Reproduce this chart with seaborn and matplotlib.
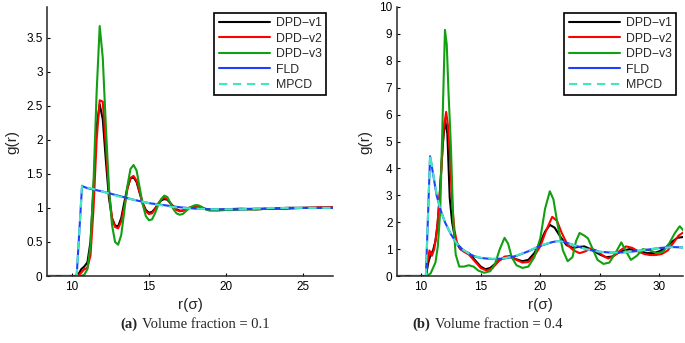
import numpy as np
import matplotlib
matplotlib.use("Agg")
import matplotlib.pyplot as plt
from matplotlib.ticker import FormatStrFormatter, MultipleLocator
import seaborn as sns

# ---- datos panel (a): fraccion de volumen 0.1 ----
r_a = [8.4, 10.2, 10.4, 10.6, 10.8, 11.0, 11.2, 11.4, 11.6, 11.8, 12.0, 12.2, 12.4, 12.6,
       12.8, 13.0, 13.2, 13.4, 13.6, 13.8, 14.0, 14.2, 14.4, 14.6, 14.8, 15.0, 15.2, 15.4,
       15.6, 15.8, 16.0, 16.2, 16.4, 16.6, 16.8, 17.0, 17.2, 17.4, 17.6, 17.8, 18.0, 18.2,
       18.4, 18.6, 18.8, 19.0, 19.5, 20, 21, 22, 23, 24, 25, 26, 27]
v1_a = [0, 0, 0.02, 0.1, 0.14, 0.2, 0.5, 1.3, 2.2, 2.52, 2.3, 1.7, 1.15, 0.85, 0.74, 0.73,
        0.85, 1.08, 1.3, 1.43, 1.45, 1.38, 1.22, 1.07, 0.97, 0.93, 0.94, 0.99, 1.06, 1.11,
        1.13, 1.12, 1.07, 1.02, 0.98, 0.96, 0.96, 0.98, 1.0, 1.01, 1.02, 1.02, 1.01, 0.99,
        0.98, 0.97, 0.97, 0.97, 0.98, 0.98, 0.99, 0.99, 1.0, 1.0, 1.01]
v2_a = [0, 0, 0.0, 0.05, 0.1, 0.12, 0.3, 1.0, 2.0, 2.58, 2.56, 1.9, 1.25, 0.85, 0.72, 0.7,
        0.8, 1.02, 1.27, 1.44, 1.47, 1.4, 1.23, 1.06, 0.95, 0.91, 0.92, 0.98, 1.06, 1.12,
        1.15, 1.13, 1.07, 1.01, 0.97, 0.95, 0.96, 0.98, 1.0, 1.01, 1.02, 1.02, 1.01, 0.99,
        0.98, 0.97, 0.97, 0.98, 0.99, 0.98, 0.99, 1.0, 1.0, 1.01, 1.01]
v3_a = [0, 0, 0, 0, 0.02, 0.1, 0.45, 1.4, 2.7, 3.67, 3.2, 2.2, 1.3, 0.75, 0.5, 0.46,
        0.6, 0.95, 1.32, 1.57, 1.63, 1.55, 1.3, 1.05, 0.88, 0.82, 0.83, 0.92, 1.04, 1.13,
        1.18, 1.16, 1.07, 0.98, 0.92, 0.9, 0.91, 0.95, 0.99, 1.02, 1.04, 1.04, 1.02, 0.99,
        0.97, 0.96, 0.96, 0.97, 0.98, 0.98, 0.99, 1.0, 1.0, 1.0, 1.0]
r_cont_a = [8.4, 10.3, 10.65, 11, 12, 13, 14, 15, 16, 17, 18, 19, 20, 21, 22, 23, 24, 25, 26, 27]
fld_a = [0, 0, 1.32, 1.29, 1.24, 1.18, 1.12, 1.07, 1.04, 1.01, 0.99, 0.98, 0.98, 0.98,
         0.99, 0.99, 1.0, 1.0, 1.0, 1.0]
mpcd_a = [0, 0, 1.33, 1.3, 1.24, 1.17, 1.12, 1.07, 1.03, 1.0, 0.99, 0.98, 0.98, 0.98,
          0.99, 1.0, 1.0, 1.0, 1.0, 1.0]

# ---- datos panel (b): fraccion de volumen 0.4 ----
r_v1_b = [8, 10.4, 10.6, 10.8, 11.0, 11.2, 11.4, 11.6, 11.8, 12.0, 12.2, 12.4, 12.6, 12.8,
          13.0, 13.3, 13.6, 14.0, 14.5, 15.0, 15.4, 15.8, 16.2, 16.6, 17.0, 17.5, 18.0, 18.5,
          19.0, 19.5, 20.0, 20.4, 20.8, 21.2, 21.7, 22.2, 22.7, 23.2, 23.7, 24.2, 24.6, 25.0,
          25.5, 26.0, 26.5, 27.0, 27.5, 28.0, 28.5, 29.0, 29.5, 30.0, 30.5, 31.0, 31.5, 32.0]
v1_b = [0, 0, 0.5, 0.8, 0.95, 1.3, 2.0, 3.3, 4.8, 5.8, 5.3, 2.9, 2.0, 1.5, 1.2, 1.0, 0.93,
        0.85, 0.6, 0.35, 0.25, 0.3, 0.45, 0.6, 0.68, 0.7, 0.62, 0.55, 0.6, 0.85, 1.25, 1.65,
        1.9, 1.8, 1.45, 1.15, 1.05, 1.08, 1.1, 1.0, 0.9, 0.8, 0.7, 0.72, 0.85, 0.95, 1.0,
        0.95, 0.9, 0.85, 0.85, 0.92, 1.05, 1.25, 1.42, 1.45]
r_v2_b = [8, 10.4, 10.55, 10.7, 10.9, 11.1, 11.3, 11.5, 11.7, 11.9, 12.1, 12.25, 12.4, 12.6,
          12.8, 13.0, 13.3, 13.6, 14.0, 14.5, 15.0, 15.5, 16.0, 16.5, 17.0, 17.5, 18.0, 18.5,
          19.0, 19.5, 20.0, 20.5, 21.0, 21.4, 21.8, 22.3, 22.8, 23.3, 23.8, 24.2, 24.7, 25.2,
          25.7, 26.2, 26.7, 27.2, 27.7, 28.2, 28.7, 29.2, 29.7, 30.2, 30.7, 31.2, 31.6, 32.0]
v2_b = [0, 0, 0.6, 0.95, 0.75, 1.0, 1.6, 2.6, 4.0, 5.5, 6.1, 5.6, 4.6, 2.7, 1.7, 1.25, 1.0,
        0.9, 0.8, 0.55, 0.3, 0.2, 0.3, 0.55, 0.72, 0.75, 0.6, 0.5, 0.52, 0.75, 1.1, 1.7, 2.2,
        2.05, 1.6, 1.15, 0.95, 0.85, 0.92, 1.02, 0.95, 0.78, 0.65, 0.75, 0.95, 1.1, 1.05,
        0.92, 0.82, 0.78, 0.78, 0.82, 0.95, 1.25, 1.5, 1.62]
r_v3_b = [8, 10.5, 10.8, 11.0, 11.2, 11.4, 11.6, 11.8, 12.0, 12.15, 12.3, 12.5, 12.7, 12.9,
          13.2, 13.6, 14.0, 14.4, 14.8, 15.3, 15.8, 16.2, 16.6, 17.0, 17.3, 17.6, 18.0, 18.5,
          19.0, 19.5, 20.0, 20.4, 20.8, 21.1, 21.5, 21.9, 22.3, 22.7, 23.0, 23.3, 23.7, 24.0,
          24.4, 24.8, 25.3, 25.8, 26.3, 26.8, 27.1, 27.6, 28.1, 28.6, 29.2, 29.8, 30.3, 30.8,
          31.3, 31.7, 32.0]
v3_b = [0, 0, 0.1, 0.3, 0.5, 1.1, 2.4, 5.8, 9.15, 8.6, 6.8, 4.8, 2.0, 0.8, 0.35, 0.35, 0.4,
        0.35, 0.2, 0.12, 0.18, 0.45, 1.0, 1.42, 1.2, 0.7, 0.4, 0.3, 0.35, 0.7, 1.4, 2.5, 3.15,
        2.85, 1.8, 0.95, 0.55, 0.7, 1.3, 1.6, 1.5, 1.4, 1.0, 0.6, 0.45, 0.5, 0.85, 1.25, 1.0,
        0.6, 0.75, 1.0, 0.95, 0.85, 0.9, 1.2, 1.6, 1.85, 1.7]
r_cont_b = [8, 10.4, 10.75, 11.0, 11.3, 11.6, 12.0, 12.5, 13.0, 13.5, 14.0, 14.5, 15, 16, 17,
            18, 19, 20, 21, 21.5, 22, 23, 24, 25, 26, 27, 28, 29, 30, 31, 32]
fld_b = [0, 0, 4.45, 3.8, 3.0, 2.5, 2.0, 1.55, 1.2, 0.98, 0.83, 0.73, 0.67, 0.63, 0.65,
         0.75, 0.92, 1.12, 1.26, 1.3, 1.27, 1.12, 0.98, 0.9, 0.87, 0.88, 0.92, 0.98, 1.04,
         1.08, 1.06]
mpcd_b = [0, 0, 4.5, 3.85, 3.05, 2.5, 2.0, 1.55, 1.2, 0.98, 0.84, 0.74, 0.68, 0.64, 0.66,
          0.76, 0.93, 1.13, 1.27, 1.3, 1.27, 1.12, 0.98, 0.9, 0.87, 0.88, 0.92, 0.98, 1.04,
          1.07, 1.06]

etiquetas = ["DPD\u2212v1", "DPD\u2212v2", "DPD\u2212v3", "FLD", "MPCD"]
colores = ["black", "#ff0000", "#10a010", "#1f3fff", "#40e8c0"]

sns.set_style("ticks")
plt.rcParams["font.family"] = ["Liberation Sans", "DejaVu Sans"]
plt.rcParams["axes.linewidth"] = 1.1
plt.rcParams["xtick.direction"] = "in"
plt.rcParams["ytick.direction"] = "in"

fig = plt.figure(figsize=(6.85, 3.43), dpi=100)
ax_a = fig.add_axes([0.0693, 0.1953, 0.4172, 0.7843])
ax_b = fig.add_axes([0.580, 0.1953, 0.4175, 0.7843])


def dibujar(ax, curvas):
    for (r, g), lab, col in zip(curvas, etiquetas, colores):
        estilo = (0, (4, 2.7)) if lab == "MPCD" else "-"
        sns.lineplot(x=r, y=g, ax=ax, color=col, lw=1.5, label=lab, linestyle=estilo,
                     estimator=None, sort=False)
    leg = ax.legend(loc="upper right", bbox_to_anchor=(1 - 7 / 286, 1 - 6 / 269),
                    borderaxespad=0, fontsize=8.8, handlelength=4.2, handletextpad=0.5,
                    labelspacing=0.28, borderpad=0.35, fancybox=False, framealpha=1)
    leg.get_frame().set_edgecolor("black")
    leg.get_frame().set_linewidth(1.2)
    for s in ["top", "right"]:
        ax.spines[s].set_visible(False)
    ax.tick_params(labelsize=8.5, length=2.5, width=0.8, colors="black")
    ax.yaxis.set_major_formatter(FormatStrFormatter("%g"))
    ax.set_xlabel("r(\u03c3)", fontsize=11, labelpad=4)
    ax.set_ylabel("g(r)", fontsize=11, labelpad=5)


dibujar(ax_a, [(r_a, v1_a), (r_a, v2_a), (r_a, v3_a), (r_cont_a, fld_a), (r_cont_a, mpcd_a)])
ax_a.set_xlim(8.4, 27)
ax_a.set_ylim(0, 3.95)
ax_a.xaxis.set_major_locator(MultipleLocator(5))
ax_a.yaxis.set_major_locator(MultipleLocator(0.5))

dibujar(ax_b, [(r_v1_b, v1_b), (r_v2_b, v2_b), (r_v3_b, v3_b), (r_cont_b, fld_b), (r_cont_b, mpcd_b)])
ax_b.set_xlim(8, 32)
ax_b.set_ylim(0, 10)
ax_b.xaxis.set_major_locator(MultipleLocator(5))
ax_b.yaxis.set_major_locator(MultipleLocator(1))

# pies de figura
serif = ["Liberation Serif", "DejaVu Serif"]
fig.text(120 / 685, 0.055, "(a)", family=serif, weight="bold", fontsize=10.5, va="center")
fig.text(142 / 685, 0.055, "Volume fraction = 0.1", family=serif, fontsize=10.5, va="center")
fig.text(412 / 685, 0.055, "(b)", family=serif, weight="bold", fontsize=10.5, va="center")
fig.text(435 / 685, 0.055, "Volume fraction = 0.4", family=serif, fontsize=10.5, va="center")

fig.savefig("out.png", dpi=100)
